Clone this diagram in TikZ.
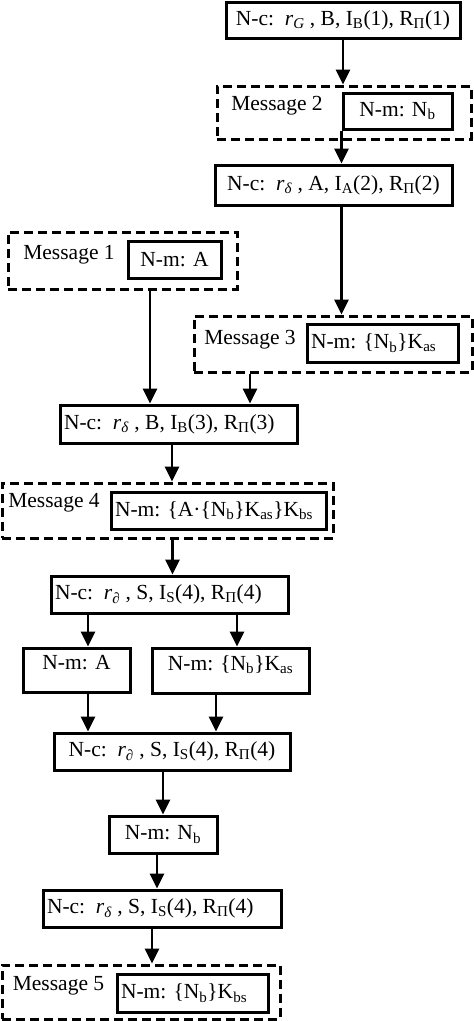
\documentclass[tikz,border=0pt]{standalone}
\usepackage{fontspec}
\setmainfont{Liberation Serif}
\usetikzlibrary{arrows.meta,positioning,calc}
\newcommand\dfont{\fontsize{21.5}{24}\selectfont}
\newcommand\Nb{N\textsubscript{b}}
\newcommand\Kas{K\textsubscript{as}}
\newcommand\Kbs{K\textsubscript{bs}}
\newcommand\Rp[1]{R\textsubscript{Π}(#1)}
\newcommand\rsub[1]{\textit{r}\textsubscript{\textit{#1}}}
\tikzset{
  box/.style   ={draw,line width=3pt,inner xsep=4pt,inner ysep=2pt,font=\dfont,
                 minimum height=37pt},
  lbox/.style  ={box,align=flush left},
  tall/.style  ={box,text height=15pt,text depth=16pt},
  msg/.style   ={draw,line width=3pt,dash pattern=on 9pt off 5pt},
  mlabel/.style={font=\dfont,inner sep=0pt},
  flow/.style  ={-{Triangle[length=15pt,width=14pt]},line width=2.6pt},
}
\begin{document}
\begin{tikzpicture}[x=1pt,y=-1pt]
\useasboundingbox (0,0) rectangle (474,1021);
\node[box,minimum width=234pt,minimum height=36pt] (c1) at (343,20) {N-c:\ \ \rsub{G} , B, I\textsubscript{B}(1), \Rp{1}};
\node[msg,minimum width=254pt,minimum height=53pt] (m2) at (344,112.5) {};
\node[mlabel] (m2l) at (277,106) {Message 2};
\node[box,minimum width=109pt,minimum height=36pt] (m2n) at (397.5,111) {N-m: \Nb};
\node[box,minimum width=237pt,minimum height=40pt] (c2) at (333.5,185) {N-c:\ \ \rsub{δ} , A, I\textsubscript{A}(2), \Rp{2}};
\node[msg,minimum width=229pt,minimum height=57pt] (m1) at (122.5,260.5) {};
\node[mlabel] (m1l) at (69,255) {Message 1};
\node[box,minimum width=93pt] (m1n) at (174.5,259.5) {N-m: A};
\node[msg,minimum width=278pt,minimum height=56pt] (m3) at (333,344) {};
\node[mlabel] (m3l) at (250,340) {Message 3};
\node[lbox,text width=143pt,minimum height=38pt] (m3n) at (382.5,343) {N-m: \{\Nb\}\Kas};
\node[lbox,text width=229pt,minimum height=38pt] (c3) at (178.5,424) {N-c:\ \ \rsub{δ} , B, I\textsubscript{B}(3), \Rp{3}};
\node[msg,minimum width=331pt,minimum height=55pt] (m4) at (167.5,510.5) {};
\node[mlabel] (m4l) at (54,503) {Message 4};
\node[lbox,text width=207pt] (m4n) at (218.5,510.5) {N-m: \{A·\{\Nb\}\Kas\}\Kbs};
\node[lbox,text width=229pt] (c4) at (169.5,594.5) {N-c:\ \ \rsub{∂} , S, I\textsubscript{S}(4), \Rp{4}};
\node[tall,minimum width=107pt,minimum height=44pt] (a5) at (76.5,670) {N-m: A};
\node[tall,minimum width=157pt,minimum height=45pt] (k5) at (230.5,670.5) {N-m: \{\Nb\}\Kas};
\node[box,minimum width=236pt] (c5) at (172,751.5) {N-c:\ \ \rsub{∂} , S, I\textsubscript{S}(4), \Rp{4}};
\node[box,minimum width=108pt] (n6) at (163,834.5) {N-m: \Nb};
\node[lbox,text width=230pt] (c6) at (162,908.5) {N-c:\ \ \rsub{δ} , S, I\textsubscript{S}(4), \Rp{4}};
\node[msg,minimum width=278pt,minimum height=54pt] (m5) at (141,992) {};
\node[mlabel] (m5l) at (58.5,986) {Message 5};
\node[lbox,text width=143pt,minimum height=38pt] (m5n) at (192.5,993) {N-m: \{\Nb\}\Kbs};
\draw[flow] (c1) -- (c1 |- m2.north);
\draw[flow] (m2n.south west) -- (m2n.south west |- c2.north);
\draw[flow] (m2n.west |- c2.south) -- (m2n.west |- m3.north);
\draw[flow] ([xshift=27.5pt]m1.south) -- ([xshift=27.5pt]m1.south |- c3.north);
\draw[flow] (m3l |- m3.south) -- (m3l |- c3.north);
\draw[flow] ([xshift=-6.5pt]c3.south) -- ([xshift=-6.5pt]c3.south |- m4.north);
\draw[flow] ([xshift=5pt]m4.south) -- ([xshift=5pt]m4.south |- c4.north);
\draw[flow] ([xshift=11.5pt]a5.north |- c4.south) -- ([xshift=11.5pt]a5.north);
\draw[flow] ([xshift=6.5pt]k5.north |- c4.south) -- ([xshift=6.5pt]k5.north);
\draw[flow] ([xshift=11.5pt]a5.south) -- ([xshift=11.5pt]a5.south |- c5.north);
\draw[flow] ([xshift=-14.5pt]k5.south) -- ([xshift=-14.5pt]k5.south |- c5.north);
\draw[flow] (n6 |- c5.south) -- (n6);
\draw[flow] ([xshift=-6pt]n6.south) -- ([xshift=-6pt]n6.south |- c6.north);
\draw[flow] ([xshift=-10pt]c6.south) -- ([xshift=-10pt]c6.south |- m5.north);
\end{tikzpicture}
\end{document}
